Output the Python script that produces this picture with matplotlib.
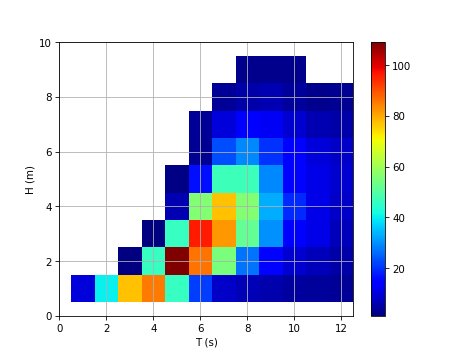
import numpy as np
import matplotlib
matplotlib.use("Agg")
import matplotlib.pyplot as plt

nan = np.nan

# bin centres
T_centres = [1, 2, 3, 4, 5, 6, 7, 8, 9, 10, 11, 12]
H_centres = [1, 2, 3, 4, 5, 6, 7, 8, 9]

# occurrence counts, one row per H bin (H=1 at the bottom)
H1 = [10, 40, 77, 85, 46, 21, 8, 6.5, 5.5, 4.5, 4, 3.5]
H2 = [nan, nan, 1.5, 46, 109, 86, 55, 27, 15, 9, 7, 5]
H3 = [nan, nan, nan, 1.2, 46, 96, 82, 52, 30, 14, 11, 7]
H4 = [nan, nan, nan, nan, 6, 56, 77, 56, 33, 19, 11, 8]
H5 = [nan, nan, nan, nan, 2, 16, 47, 47, 29, 15, 11, 9]
H6 = [nan, nan, nan, nan, nan, 3, 23, 29, 20, 15, 10, 8]
H7 = [nan, nan, nan, nan, nan, 3.5, 10, 14.5, 12.5, 9, 6, 5]
H8 = [nan, nan, nan, nan, nan, nan, 3.5, 5, 6, 4, 2.5, 3]
H9 = [nan, nan, nan, nan, nan, nan, nan, 2.5, 2.5, 2.5, nan, nan]

Z = np.array([H1, H2, H3, H4, H5, H6, H7, H8, H9])
Z = np.ma.masked_invalid(Z)

# cell edges half a bin either side of the centres
x_edges = np.append(np.array(T_centres) - 0.5, T_centres[-1] + 0.5)
y_edges = np.append(np.array(H_centres) - 0.5, H_centres[-1] + 0.5)

fig, ax = plt.subplots(figsize=(6.4, 4.8))

mesh = ax.pcolormesh(x_edges, y_edges, Z, cmap="jet")
plt.colorbar(mesh, ax=ax)

ax.set_xlim(0, 12.5)
ax.set_ylim(0, 10)
ax.set_xlabel("T (s)")
ax.set_ylabel("H (m)")
ax.grid(True)

plt.savefig("out.png", dpi=474 / 6.4)
